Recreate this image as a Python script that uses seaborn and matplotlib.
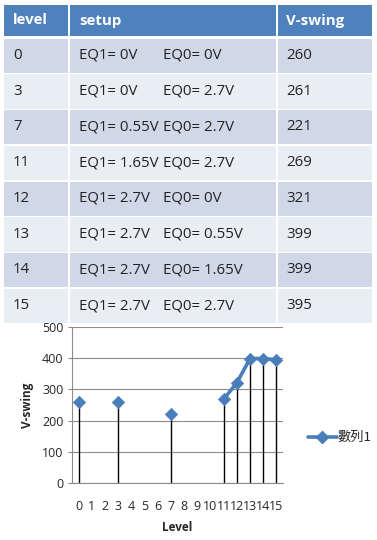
import numpy as np
import pandas as pd
import matplotlib
matplotlib.use("Agg")
import matplotlib.pyplot as plt
from matplotlib.patches import Rectangle
from matplotlib.lines import Line2D
import seaborn as sns

# ---- data ----
levels = [0, 3, 7, 11, 12, 13, 14, 15]
eq1 = ["EQ1= 0V", "EQ1= 0V", "EQ1= 0.55V", "EQ1= 1.65V", "EQ1= 2.7V", "EQ1= 2.7V", "EQ1= 2.7V", "EQ1= 2.7V"]
eq0 = ["EQ0= 0V", "EQ0= 2.7V", "EQ0= 2.7V", "EQ0= 2.7V", "EQ0= 0V", "EQ0= 0.55V", "EQ0= 1.65V", "EQ0= 2.7V"]
vswing = [260, 261, 221, 269, 321, 399, 399, 395]
headers = ["level", "setup", "V-swing"]
x_ticks = list(range(16))
y_ticks = [0, 100, 200, 300, 400, 500]
series_name = "數列1"

sns.set_style("white")
plt.rcParams['font.family'] = ['Open Sans', 'Noto Sans CJK TC', 'DejaVu Sans']

W, H = 377, 540
fig = plt.figure(figsize=(W / 100, H / 100), dpi=100)

# ---- table ----
tax = fig.add_axes([0, 0, 1, 1])
tax.set_xlim(0, W)
tax.set_ylim(H, 0)
tax.axis("off")

col_edges = [4, 68, 276, 372]
text_x = [13, 79, 286]
eq0_x = 163
hdr_top, hdr_bot = 5, 36
row_top0, row_bot_last = 37, 323
nrows = len(levels)
rh = (row_bot_last - row_top0) / nrows
gap = 1.5
header_col = "#4F81BD"
dark = "#D0D8E8"
light = "#E9EDF4"
fs = 10.8

for c in range(3):
    x0, x1 = col_edges[c], col_edges[c + 1]
    tax.add_patch(Rectangle((x0 + (gap if c else 0), hdr_top), x1 - x0 - (gap if c else 0), hdr_bot - hdr_top,
                            facecolor=header_col, edgecolor="none"))
    tax.text(text_x[c], (hdr_top + hdr_bot) / 2, headers[c], color="white", fontsize=fs,
             fontweight="bold", va="center", ha="left")

for r in range(nrows):
    y0 = row_top0 + r * rh
    col = dark if r % 2 == 0 else light
    for c in range(3):
        x0, x1 = col_edges[c], col_edges[c + 1]
        tax.add_patch(Rectangle((x0 + (gap if c else 0), y0 + gap), x1 - x0 - (gap if c else 0), rh - gap,
                                facecolor=col, edgecolor="none"))
    yc = y0 + rh / 2 + 0.5
    tax.text(text_x[0], yc, str(levels[r]), fontsize=fs, va="center", color="#222222")
    tax.text(text_x[1], yc, eq1[r], fontsize=fs, va="center", color="#222222")
    tax.text(eq0_x, yc, eq0[r], fontsize=fs, va="center", color="#222222")
    tax.text(text_x[2], yc, str(vswing[r]), fontsize=fs, va="center", color="#222222")

# ---- chart ----
ax = fig.add_axes([72 / W, 1 - 483 / H, (283 - 72) / W, (483 - 327) / H])
df = pd.DataFrame({"level": levels, "vswing": vswing})
# consecutive runs form connected segments (gaps where levels are missing)
df["segment"] = (df["level"].diff() != 1).cumsum()

blue = "#4A7EBB"
ax.vlines(df["level"], 0, df["vswing"], color="black", lw=1.0, zorder=2)
sns.lineplot(data=df, x="level", y="vswing", units="segment", estimator=None,
             color=blue, lw=2.6, ax=ax, zorder=3, legend=False)
sns.scatterplot(data=df, x="level", y="vswing", marker="D", s=40, color=blue,
                edgecolor=blue, linewidth=0.5, ax=ax, zorder=4, legend=False)

tfs = 9
ax.set_xlim(-0.5, 15.5)
ax.set_ylim(0, 500)
ax.set_xticks(x_ticks)
ax.set_xticklabels([str(t) for t in x_ticks], fontsize=tfs)
ax.set_yticks(y_ticks)
ax.set_yticklabels([str(t) for t in y_ticks], fontsize=tfs)
ax.tick_params(axis="x", length=0, pad=12)
ax.tick_params(axis="y", length=3, pad=3, color="#888888", direction="out", left=True)
ax.grid(axis="y", color="#8C8C8C", lw=0.8)
ax.set_axisbelow(True)
for s in ["top", "right"]:
    ax.spines[s].set_visible(False)
for s in ["left", "bottom"]:
    ax.spines[s].set_color("#8C8C8C")
    ax.spines[s].set_linewidth(0.8)
ax.set_xlabel("Level", fontsize=8.5, fontweight="bold", labelpad=6)
ax.set_ylabel("V-swing", fontsize=8.5, fontweight="bold", labelpad=6)

handle = Line2D([], [], color=blue, lw=2.6, marker="D", markersize=6.5)
ax.legend([handle], [series_name], loc="center left", bbox_to_anchor=(1.06, 0.29),
          frameon=False, handlelength=2.2, handletextpad=0.1,
          prop={"family": ["Noto Sans CJK TC", "DejaVu Sans"], "size": 9.5})

fig.savefig("out.png", dpi=100)
